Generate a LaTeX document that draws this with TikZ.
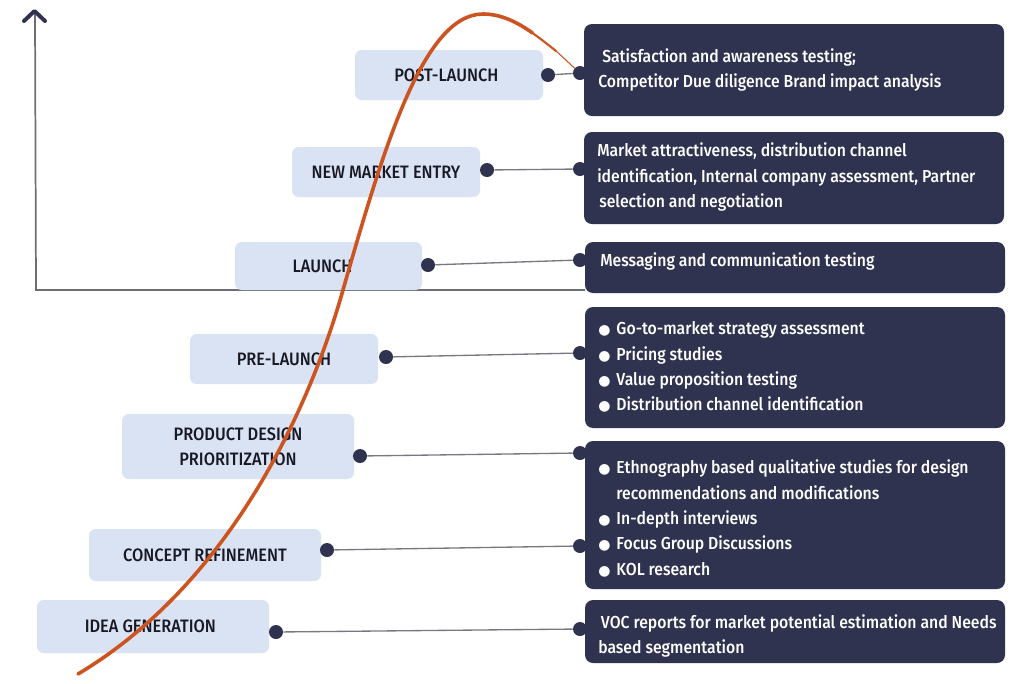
\documentclass[tikz,border=0pt]{standalone}
\usepackage{fontspec}
\setmainfont{Fira Sans}[FakeStretch=0.91]
\newfontfamily\medfont{Fira Sans Medium}[FakeStretch=0.91]
\newfontfamily\symfont{DejaVu Sans}
\definecolor{lightbox}{RGB}{218,227,243}
\definecolor{darkbox}{RGB}{47,51,80}
\definecolor{ltext}{RGB}{25,25,35}
\definecolor{connc}{RGB}{120,120,128}
\definecolor{axisc}{RGB}{110,110,122}
\definecolor{curvec}{RGB}{203,84,32}
\newcommand{\bul}{{\symfont\fontsize{10.5}{10}\selectfont ●}\hspace{4.5pt}}
\newcommand{\bulsp}{\phantom{\bul}}
\begin{document}
\begin{tikzpicture}[x=0.75pt,y=-0.75pt,
  lbox/.style={fill=lightbox, rounded corners=5pt, inner sep=0pt, text=ltext,
    font=\medfont\fontsize{13.5}{18.75}\selectfont, align=center},
  dbox/.style={fill=darkbox, rounded corners=6pt, inner sep=0pt, minimum width=315pt},
  dtext/.style={text=white, font=\medfont\fontsize{13}{19}\selectfont, align=left, anchor=west, inner sep=0pt},
  dotn/.style={circle, fill=darkbox, minimum size=10.5pt, inner sep=0pt},
  conn/.style={draw=connc, line width=1pt},
  axis/.style={draw=axisc, line width=1.3pt},
  curve/.style={draw=curvec, line cap=round}]
\useasboundingbox (0,0) rectangle (1024,683);
% axes
\coordinate (ytop) at (35,14);
\coordinate (orig) at (36,290);
\coordinate (xend) at (585,290);
\draw[axis] (ytop) -- (orig) -- (xend);
\draw[darkbox, line width=3pt, line cap=round, line join=round] (24,21) -- (34.5,11) -- (45,21);
% light boxes
\node[lbox, minimum width=141pt, minimum height=37.5pt] (post) at (449,75) {\hspace*{-4pt}POST-LAUNCH};
\node[lbox, minimum width=141pt, minimum height=37.5pt] (nme) at (386,172) {NEW MARKET ENTRY};
\node[lbox, minimum width=140.25pt, minimum height=36pt] (launch) at (328.5,266) {\hspace*{-9pt}LAUNCH};
\node[lbox, minimum width=141pt, minimum height=37.5pt] (pre) at (284,359) {PRE-LAUNCH};
\node[lbox, minimum width=174pt, minimum height=48.75pt] (pd) at (238,446.5) {PRODUCT DESIGN\\PRIORITIZATION};
\node[lbox, minimum width=174pt, minimum height=39pt] (cr) at (205,555) {CONCEPT REFINEMENT};
\node[lbox, minimum width=174pt, minimum height=39.75pt] (ig) at (153,626.5) {\hspace*{-4pt}IDEA GENERATION};
% dots
\node[dotn] (d1) at (548,75) {};
\node[dotn] (d2) at (487,170) {};
\node[dotn] (d3) at (428,265) {};
\node[dotn] (d4) at (386,357) {};
\node[dotn] (d5) at (360,456) {};
\node[dotn] (d6) at (327,550) {};
\node[dotn] (d7) at (276,632) {};
\node[dotn] (e1) at (580,73) {};
\node[dotn] (e2) at (580,169) {};
\node[dotn] (e3) at (580,260) {};
\node[dotn] (e4) at (580,353) {};
\node[dotn] (e5) at (580,453) {};
\node[dotn] (e6) at (580,546) {};
\node[dotn] (e7) at (580,629) {};
\foreach \a/\b in {d1/e1,d2/e2,d3/e3,d4/e4,d5/e5,d6/e6,d7/e7}
  \draw[conn] (\a) -- (\b);
% dark boxes
\node[dbox, minimum height=69pt] (b1) at (794,70) {};
\node[dbox, minimum height=69pt] (b2) at (794,178) {};
\node[dbox, minimum height=38.25pt] (b3) at (795,267.5) {};
\node[dbox, minimum height=90.75pt] (b4) at (795,367.5) {};
\node[dbox, minimum height=111pt] (b5) at (795,515) {};
\node[dbox, minimum height=47.25pt] (b6) at (795,631.5) {};
% texts
\node[dtext] (t1) at (598,70) {\hspace*{3pt}Satisfaction and awareness testing;\\Competitor Due diligence Brand impact analysis};
\node[dtext] (t2) at (597,177) {Market attractiveness, distribution channel\\identification, Internal company assessment, Partner\\\hspace*{1.5pt}selection and negotiation};
\node[dtext] (t3) at (600,261) {Messaging and communication testing};
\node[dtext] (t4) at (598,367) {\bul Go-to-market strategy assessment\\\bul Pricing studies\\\bul Value proposition testing\\\bul Distribution channel identification};
\node[dtext] (t5) at (598,518.5) {\bul Ethnography based qualitative studies for design\\\bulsp recommendations and modifications\\\bul In-depth interviews\\\bul Focus Group Discussions\\\bul KOL research};
\node[dtext] (t6) at (598,636) {\hspace*{2pt}VOC reports for market potential estimation and Needs\\based segmentation};
% curve
\coordinate (c0) at (78,674);
\coordinate (c1) at (343,290);
\coordinate (c2) at (483,14);
\coordinate (c3) at (532.4,32.9);
\coordinate (c4) at (556,51);
\draw[curve, line width=2.7pt] (c0) .. controls (222,588) and (305,424) .. (c1)
  .. controls (383,150) and (423,14) .. (c2)
  .. controls (500.5,14) and (516.75,21.75) .. (c3);
\draw[curve, line width=1.6pt] (c3) .. controls (540,38.4) and (548,44.5) .. (c4);
\draw[curve, line width=0.8pt] (c4) .. controls (564,58) and (571,65) .. (e1);
\end{tikzpicture}
\end{document}
